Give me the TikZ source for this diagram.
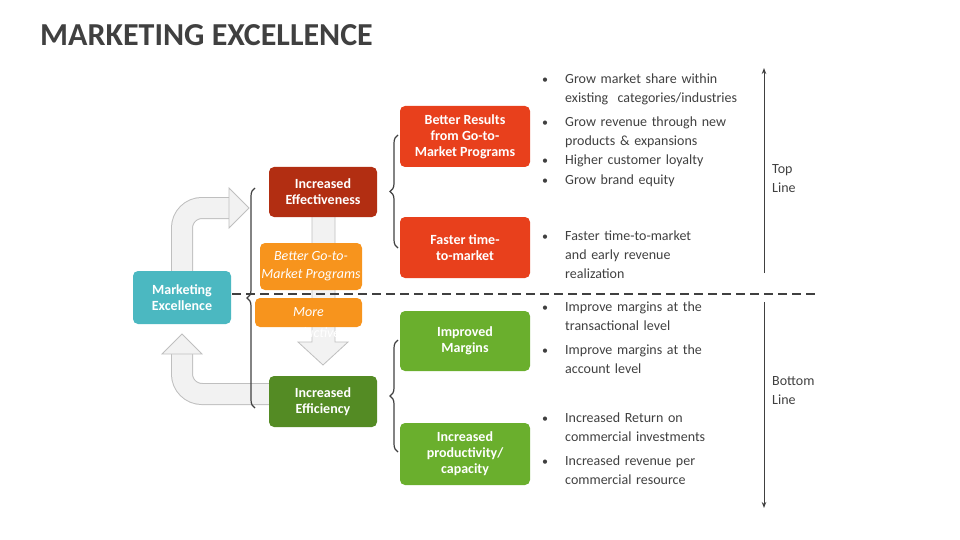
\documentclass[tikz,border=0pt]{standalone}
\usepackage{fontspec}
\setmainfont{Carlito}
\usetikzlibrary{arrows.meta,decorations.pathreplacing}
\definecolor{teal1}{HTML}{4BB8C1}
\definecolor{dred}{HTML}{B22E12}
\definecolor{rorg}{HTML}{E8401C}
\definecolor{org}{HTML}{F7941D}
\definecolor{dgrn}{HTML}{548B24}
\definecolor{lgrn}{HTML}{6AAF2D}
\definecolor{txt}{HTML}{404040}
\definecolor{arrf}{HTML}{F2F2F2}
\definecolor{arrd}{HTML}{BFBFBF}
\tikzset{
 box/.style={rounded corners=5pt, text=white, font=\fontsize{14}{16}\selectfont\bfseries, align=center, inner sep=0pt},
 bul/.style={anchor=north west, text=txt, font=\fontsize{14}{19}\selectfont, align=left, inner sep=0pt, text width=210pt},
 brc/.style={draw=txt, line width=1.2pt, decorate, decoration={brace, amplitude=8pt}},
 shaft/.style={line width=22pt, draw=arrd},
 shaftin/.style={line width=20pt, draw=arrf},
 head/.style={fill=arrf, draw=arrd, line width=0.8pt},
}
\begin{document}
\begin{tikzpicture}[x=1pt,y=-1pt]
\useasboundingbox (0,0) rectangle (960,540);
\node[anchor=west, text=txt, font=\fontsize{32}{34}\selectfont\bfseries, inner sep=0pt] (title) at (40,35) {MARKETING EXCELLENCE};
% gray arrows
\draw[shaft, rounded corners=20pt] (182,272) -- (182,208) -- (230,208);
\draw[shaftin, rounded corners=20pt] (182,273) -- (182,208) -- (230,208);
\draw[head] (229,188) -- (249,208) -- (229,228) -- cycle;
\draw[shaft, rounded corners=20pt] (269,394) -- (182,394) -- (182,352);
\draw[shaftin, rounded corners=20pt] (270,394) -- (182,394) -- (182,352);
\draw[head] (162,354) -- (182,334) -- (202,354) -- cycle;
\draw[fill=arrf, draw=arrd, line width=0.8pt] (312,217) -- (312,342) -- (298,342) -- (323,365) -- (348,342) -- (335,342) -- (335,217);
% boxes
\node[box, fill=teal1, minimum width=98pt, minimum height=53pt] (me) at (182,297.5) {Marketing\\Excellence};
\node[box, fill=dred, minimum width=108pt, minimum height=50pt] (ie) at (323,192) {Increased\\Effectiveness};
\node[box, fill=org, minimum width=102pt, minimum height=47pt, font=\fontsize{14}{18}\selectfont\itshape] (bg) at (311,266.5) {Better Go-to-\\Market Programs};
\node[box, fill=org, minimum width=107pt, minimum height=29pt, font=\fontsize{14}{18}\selectfont\itshape] (mo) at (308.5,312.5) {More};
\node[text=white, font=\fontsize{14}{18}\selectfont\itshape, inner sep=0pt] (mo2) at (310,333) {Productive};
\node[box, fill=dgrn, minimum width=108pt, minimum height=51pt] (ief) at (323,401.5) {Increased\\Efficiency};
\node[box, fill=rorg, minimum width=130pt, minimum height=61pt] (br) at (465,136.5) {Better Results\\from Go-to-\\Market Programs};
\node[box, fill=rorg, minimum width=130pt, minimum height=61pt] (ft) at (465,247.5) {Faster time-\\to-market};
\node[box, fill=lgrn, minimum width=130pt, minimum height=60pt] (im) at (465,341) {Improved\\Margins};
\node[box, fill=lgrn, minimum width=130pt, minimum height=62pt] (ip) at (465,454) {Increased\\productivity/\\capacity};
% braces
\draw[brc] (255,408) -- (255,188);
\draw[brc] (398,248) -- (398,135);
\draw[brc] (398,452) -- (398,340);
\draw[txt, line width=1.2pt, dash pattern=on 9pt off 5pt] (232,294) -- (815,294);
% bullets
\foreach \y/\t in {74/{Grow market share within\\existing\ \ categories/industries},117/{Grow revenue through new\\products \& expansions},155/{Higher customer loyalty},175/{Grow brand equity},231/{Faster time-to-market\\and early revenue\\realization},302/{Improve margins at the\\transactional level},345/{Improve margins at the\\account level},413/{Increased Return on\\commercial investments},456/{Increased revenue per\\commercial resource}}{
 \node[bul] at (565,\y) {\t};
 \node[text=txt, font=\fontsize{12}{14}\selectfont, inner sep=0pt] at (545,\y+7) {•};
}
% right axis
\coordinate (t1) at (764,68); \coordinate (t2) at (764,273);
\coordinate (b1) at (764,302); \coordinate (b2) at (764,508);
\draw[txt, line width=1pt, -{Stealth[length=6pt]}] (t2) -- (t1);
\draw[txt, line width=1pt, -{Stealth[length=6pt]}] (b1) -- (b2);
\node[anchor=north west, text=txt, font=\fontsize{14}{19}\selectfont, align=left, inner sep=0pt] (tl) at (772,164) {Top\\Line};
\node[anchor=north west, text=txt, font=\fontsize{14}{19}\selectfont, align=left, inner sep=0pt] (bl) at (772,376) {Bottom\\Line};
\end{tikzpicture}
\end{document}
